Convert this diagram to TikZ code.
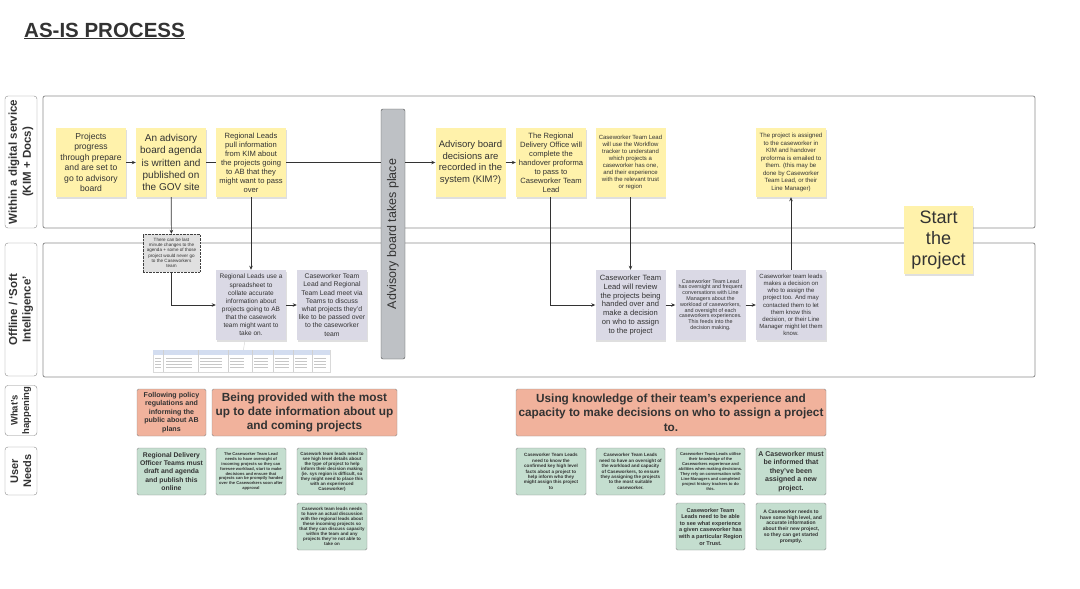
\documentclass[tikz,border=0pt]{standalone}
\usepackage{fontspec}
\setmainfont{Liberation Sans}
\usetikzlibrary{positioning,arrows.meta,shadows}

\definecolor{stickyyellow}{HTML}{FFF2AB}
\definecolor{softgrey}{HTML}{DAD9E5}
\definecolor{barfill}{HTML}{BEC1C5}
\definecolor{happenfill}{HTML}{F1B29C}
\definecolor{needfill}{HTML}{C4DECF}
\definecolor{inktext}{HTML}{333333}
\definecolor{framegrey}{HTML}{8A8A8A}
\definecolor{sheethead}{HTML}{D3DDF0}
\newcommand{\fsz}[2]{\fontsize{#1}{#2}\selectfont}

\begin{document}
\begin{tikzpicture}[x=1pt, y=-1pt,
        every node/.style={text=inktext, align=center, inner sep=1pt},
        sticky/.style={fill=stickyyellow, minimum width=70pt, minimum height=69pt,
            drop shadow={opacity=0.25, shadow xshift=0.5pt, shadow yshift=-2pt}},
        offline/.style={sticky, fill=softgrey, minimum height=70pt},
        happen/.style={draw=black!45, fill=happenfill, rounded corners=1.5pt, minimum height=47pt},
        need/.style={draw=black!45, fill=needfill, rounded corners=1.5pt, minimum width=69pt, minimum height=47pt},
        lanelabel/.style={draw=framegrey, fill=white, rounded corners=3pt, rotate=90, minimum height=32pt},
        laneframe/.style={draw=framegrey, rounded corners=2pt, line width=0.8pt},
        arrow/.style={->, >={Stealth[length=4pt,width=3.5pt]}, draw=inktext, line width=0.7pt},
        plain/.style={draw=inktext, line width=0.7pt}]

        \useasboundingbox (0,0) rectangle (1080,589);

        % Title
        \node[anchor=west, font=\bfseries\fsz{20.5}{24}] (title) at (23,31) {\underline{AS-IS PROCESS}};

        %%% Swimlanes
        \node[laneframe, minimum width=992pt, minimum height=132pt] (laneDigital) at (539,162) {};
        \node[laneframe, minimum width=992pt, minimum height=134pt] (laneOffline) at (539,310) {};
        \node[lanelabel, minimum width=132pt, font=\bfseries\fsz{11.5}{14}] (labDigital) at (21,162) {Within a digital service\\(KIM + Docs)};
        \node[lanelabel, minimum width=133pt, font=\bfseries\fsz{11.5}{13.5}] (labOffline) at (21,309.5) {Offline / `Soft\\Intelligence'};
        \node[lanelabel, minimum width=47pt, font=\bfseries\fsz{9.5}{11.5}] (labHappen) at (21,410.5) {What's\\happening};
        \node[lanelabel, minimum width=48pt, font=\bfseries\fsz{11}{13}] (labNeeds) at (21,471) {User\\Needs};

        %%% Digital service row
        \node[sticky, font=\fsz{8.6}{10.5}] (prepare) at (91,162.5) {Projects\\progress\\through prepare\\and are set to\\go to advisory\\board};
        \node[sticky, font=\fsz{10}{12.2}] (agenda) at (171,162.5) {An advisory\\board agenda\\is written and\\published on\\the GOV site};
        \node[sticky, font=\fsz{7.6}{9}] (pullKim) at (251,162.5) {Regional Leads\\pull information\\from KIM about\\the projects going\\to AB that they\\might want to pass\\over};

        % Advisory board bar across both lanes
        \node[draw=black!70, fill=barfill, rounded corners=2pt, minimum width=250pt, minimum height=24pt,
            rotate=90, font=\fsz{12.5}{14}] (board) at (393,234) {Advisory board takes place};

        \node[sticky, font=\fsz{9.5}{11.8}] (recorded) at (470.5,162.5) {Advisory board\\decisions are\\recorded in the\\system (KIM?)};
        \node[sticky, font=\fsz{7.6}{9}] (proforma) at (551,162.5) {The Regional\\Delivery Office will\\complete the\\handover proforma\\to pass to\\Caseworker Team\\Lead};
        \node[sticky, font=\fsz{6}{7.1}] (tracker) at (630.5,162.5) {Caseworker Team Lead\\will use the Workflow\\tracker to understand\\which projects a\\caseworker has one,\\and their experience\\with the relevant trust\\or region};
        \node[sticky, font=\fsz{6.1}{7.5}] (assigned) at (791,162.5) {The project is assigned\\to the caseworker in\\KIM and handover\\proforma is emailed to\\them. (this may be\\done by Caseworker\\Team Lead, or their\\Line Manager)};

        % Start sits over the lane frames
        \node[sticky, minimum width=69pt, minimum height=68pt, font=\fsz{18}{21}] (start) at (938.5,240) {Start\\the\\project};

        %%% Offline / soft intelligence row
        \node[draw=black!75, densely dotted, fill=black!12, minimum width=57pt, minimum height=38pt,
            font=\fsz{4.6}{5.3}] (lastMinute) at (171.5,253) {There can be last\\minute changes to the\\agenda + some of those\\project would never go\\to the Caseworkers\\team};
        \node[offline, font=\fsz{6.5}{8.1}] (spreadsheet) at (251,305) {Regional Leads use a\\spreadsheet to\\collate accurate\\information about\\projects going to AB\\that the casework\\team might want to\\take on.};
        \node[offline, font=\fsz{6.8}{8.2}] (teamsMeet) at (332,305) {Caseworker Team\\Lead and Regional\\Team Lead meet via\\Teams to discuss\\what projects they'd\\like to be passed over\\to the caseworker\\team};
        \node[offline, font=\fsz{7.6}{8.9}] (review) at (630.5,305) {Caseworker Team\\Lead will review\\the projects being\\handed over and\\make a decision\\on who to assign\\to the project};
        \node[offline, font=\fsz{5.4}{5.8}] (oversight) at (710.5,305) {Caseworker Team Lead\\has oversight and frequent\\conversations with Line\\Managers about the\\workload of caseworkers,\\and oversight of each\\caseworkers experiences.\\This feeds into the\\decision making.};
        \node[offline, font=\fsz{6}{7.2}] (decide) at (791,305) {Caseworker team leads\\makes a decision on\\who to assign the\\project too. And may\\contacted them to let\\them know this\\decision, or their Line\\Manager might let them\\know.};

        % Small spreadsheet screenshot
        \node[draw=black!15, fill=white, minimum width=177pt, minimum height=22pt, inner sep=0pt] (sheet) at (241.5,361) {};
        \fill[sheethead] (sheet.north west) rectangle ([yshift=-5pt]sheet.north east);
        \foreach \cx in {163,198,228,252,273,293,312}
            \draw[black!18, line width=0.3pt] (\cx,350) -- (\cx,372);
        \foreach \cx/\len in {155/6,166/26,200/22,230/14,254/14,275/14,295/12,314/12}
            \foreach \ry in {358,361,364,367}
                \draw[black!22, line width=0.4pt] (\cx,\ry) -- ++(\len,0);

        %%% What's happening
        \node[happen, minimum width=69pt, font=\bfseries\fsz{7.1}{8.6}] (hPolicy) at (171.5,412.5) {Following policy\\regulations and\\informing the\\public about AB\\plans};
        \node[happen, minimum width=185pt, font=\bfseries\fsz{11.8}{14.3}] (hUpToDate) at (304.5,412.5) {Being provided with the most\\up to date information about up\\and coming projects};
        \node[happen, minimum width=310pt, font=\bfseries\fsz{11.8}{14.5}] (hKnowledge) at (671,412.5) {Using knowledge of their team's experience and\\capacity to make decisions on who to assign a project\\to.};

        %%% User needs
        \node[need, font=\bfseries\fsz{6.8}{8.3}] (nAgenda) at (171.5,471.5) {Regional Delivery\\Officer Teams must\\draft and agenda\\and publish this\\online};
        \node[need, minimum width=70pt, font=\bfseries\fsz{4.1}{4.9}] (nIncoming) at (251,471.5) {The Caseworker Team Lead\\needs to have oversight of\\incoming projects so they can\\foresee workload, start to make\\decisions and ensure that\\projects can be promptly handed\\over the Caseworkers soon after\\approval};
        \node[need, minimum width=70pt, font=\bfseries\fsz{4.5}{5}] (nDetails) at (332,471.5) {Casework team leads need to\\see high level details about\\the type of project to help\\inform their decision making\\(ie. sys region is difficult, so\\they might need to place this\\with an experienced\\Caseworker)};
        \node[need, minimum width=70pt, font=\bfseries\fsz{4.5}{5}] (nDiscuss) at (332,526.5) {Casework team leads needs\\to have an actual discussion\\with the regional leads about\\these incoming projects so\\that they can discuss capacity\\within the team and any\\projects they're not able to\\take on};
        \node[need, minimum width=70pt, font=\bfseries\fsz{4.6}{5.4}] (nFacts) at (551,471.5) {Caseworker Team Leads\\need to know the\\confirmed key high level\\facts about a project to\\help inform who they\\might assign this project\\to};
        \node[need, font=\bfseries\fsz{4.6}{5.4}] (nCapacity) at (630.5,471.5) {Caseworker Team Leads\\need to have an oversight of\\the workload and capacity\\of Caseworkers, to ensure\\they assigning the projects\\to the most suitable\\caseworker.};
        \node[need, font=\bfseries\fsz{4.1}{4.9}] (nKnowledge) at (710.5,471.5) {Caseworker Team Leads utilise\\their knowledge of the\\Caseworkers experience and\\abilities when making decisions.\\They rely on conversation with\\Line Managers and completed\\project history trackers to do\\this.};
        \node[need, minimum width=70pt, font=\bfseries\fsz{7}{8.5}] (nInformed) at (791,471.5) {A Caseworker must\\be informed that\\they've been\\assigned a new\\project.};
        \node[need, font=\bfseries\fsz{5.6}{6.6}] (nExperience) at (710.5,526.5) {Caseworker Team\\Leads need to be able\\to see what experience\\a given caseworker has\\with a particular Region\\or Trust.};
        \node[need, minimum width=70pt, font=\bfseries\fsz{5}{5.8}] (nHighLevel) at (791,526.5) {A Caseworker needs to\\have some high level, and\\accurate information\\about their new project,\\so they can get started\\promptly.};

        %%% Connectors
        \draw[arrow] (prepare) -- (agenda);
        \draw[plain] (agenda) -- (pullKim);
        \draw[plain] (pullKim) -- (pullKim -| board.north);
        \draw[arrow] (recorded -| board.south) -- (recorded);
        \draw[arrow] (recorded) -- (proforma);
        \draw[arrow] (agenda) -- (lastMinute);
        \draw[arrow] (lastMinute) |- (spreadsheet);
        \draw[arrow] (pullKim) -- (spreadsheet);
        \draw[arrow] (spreadsheet) -- (teamsMeet);
        \draw[black!15, line width=0.5pt] (spreadsheet) -- (sheet);
        \draw[arrow] (proforma.south -| 550,0) |- (review);
        \draw[arrow] (tracker) -- (review);
        \draw[arrow] (review) -- (oversight);
        \draw[arrow] (oversight) -- (decide);
        \draw[arrow] (decide) -- (assigned);
\end{tikzpicture}
\end{document}
